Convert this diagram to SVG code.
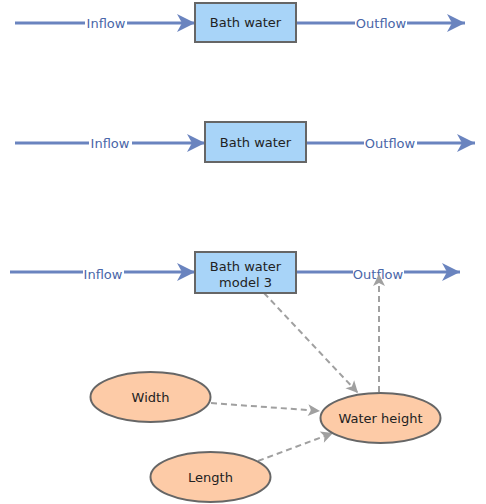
<svg xmlns="http://www.w3.org/2000/svg" width="486" height="504" viewBox="0 0 486 504">
<style>
.flow{stroke:#6a84bf;stroke-width:3;fill:none}
.dep{stroke:#a0a0a0;stroke-width:2;fill:none;stroke-dasharray:6,4}
.box{fill:#a8d4f8;stroke:#666;stroke-width:2}
.ell{fill:#fdcba7;stroke:#666;stroke-width:2}
.nt{font-family:"DejaVu Sans",Verdana,sans-serif;font-size:13px;fill:#222;text-anchor:middle}
.ft{font-family:"DejaVu Sans",Verdana,sans-serif;font-size:13px;fill:#4a66a8;text-anchor:middle}
.bg{fill:#fff}
</style>
<defs>
<marker id="fa" markerUnits="userSpaceOnUse" markerWidth="20" markerHeight="20" viewBox="0 0 20 20" refX="19" refY="10" orient="auto">
<path d="M1,1 L19,10 L1,19 L6,10 Z" fill="#6a84bf"/>
</marker>
<marker id="da" markerUnits="userSpaceOnUse" markerWidth="14" markerHeight="14" viewBox="0 0 14 14" refX="13" refY="7" orient="auto">
<path d="M1,1 L13,7 L1,13 L4,7 Z" fill="#a0a0a0"/>
</marker>
</defs>
<g id="connectors">
<line class="flow" x1="15" y1="23" x2="195" y2="23" marker-end="url(#fa)"/>
<line class="flow" x1="296" y1="23" x2="465" y2="23" marker-end="url(#fa)"/>
<line class="flow" x1="15" y1="143" x2="205" y2="143" marker-end="url(#fa)"/>
<line class="flow" x1="306" y1="143" x2="475" y2="143" marker-end="url(#fa)"/>
<line class="flow" x1="10" y1="272" x2="195" y2="272" marker-end="url(#fa)"/>
<line class="flow" x1="296" y1="272" x2="460" y2="272" marker-end="url(#fa)"/>
<rect class="bg" x="85" y="15" width="42" height="16"/>
<text class="ft" x="106" y="28">Inflow</text>
<rect class="bg" x="355" y="15" width="52" height="16"/>
<text class="ft" x="381" y="28">Outflow</text>
<rect class="bg" x="89" y="135" width="43" height="16"/>
<text class="ft" x="110" y="148">Inflow</text>
<rect class="bg" x="364" y="135" width="53" height="16"/>
<text class="ft" x="390" y="148">Outflow</text>
<rect class="bg" x="83" y="264" width="41" height="16"/>
<text class="ft" x="103" y="279">Inflow</text>
<rect class="bg" x="353" y="264" width="51" height="16"/>
<text class="ft" x="378" y="279">Outflow</text>
<line class="dep" x1="264" y1="293" x2="358" y2="393" marker-end="url(#da)"/>
<line class="dep" x1="379" y1="392" x2="379" y2="274" marker-end="url(#da)"/>
<line class="dep" x1="211" y1="403" x2="320" y2="411" marker-end="url(#da)"/>
<line class="dep" x1="258" y1="461" x2="333" y2="433" marker-end="url(#da)"/>
</g>
<g id="bath1">
<rect class="box" x="195" y="3" width="101" height="39"/>
<text class="nt" x="245.5" y="27">Bath water</text>
</g>
<g id="bath2">
<rect class="box" x="205" y="122" width="101" height="40"/>
<text class="nt" x="255.5" y="147">Bath water</text>
</g>
<g id="bath3">
<rect class="box" x="195" y="252" width="101" height="41"/>
<text class="nt" x="245.5" y="271">Bath water</text>
<text class="nt" x="245.5" y="287">model 3</text>
</g>
<g id="width">
<ellipse class="ell" cx="150.5" cy="397" rx="60" ry="25"/>
<text class="nt" x="150.5" y="402">Width</text>
</g>
<g id="waterheight">
<ellipse class="ell" cx="380.5" cy="418" rx="60" ry="25"/>
<text class="nt" x="380.5" y="423">Water height</text>
</g>
<g id="length">
<ellipse class="ell" cx="210.5" cy="477" rx="60" ry="25"/>
<text class="nt" x="210.5" y="482">Length</text>
</g>
</svg>
